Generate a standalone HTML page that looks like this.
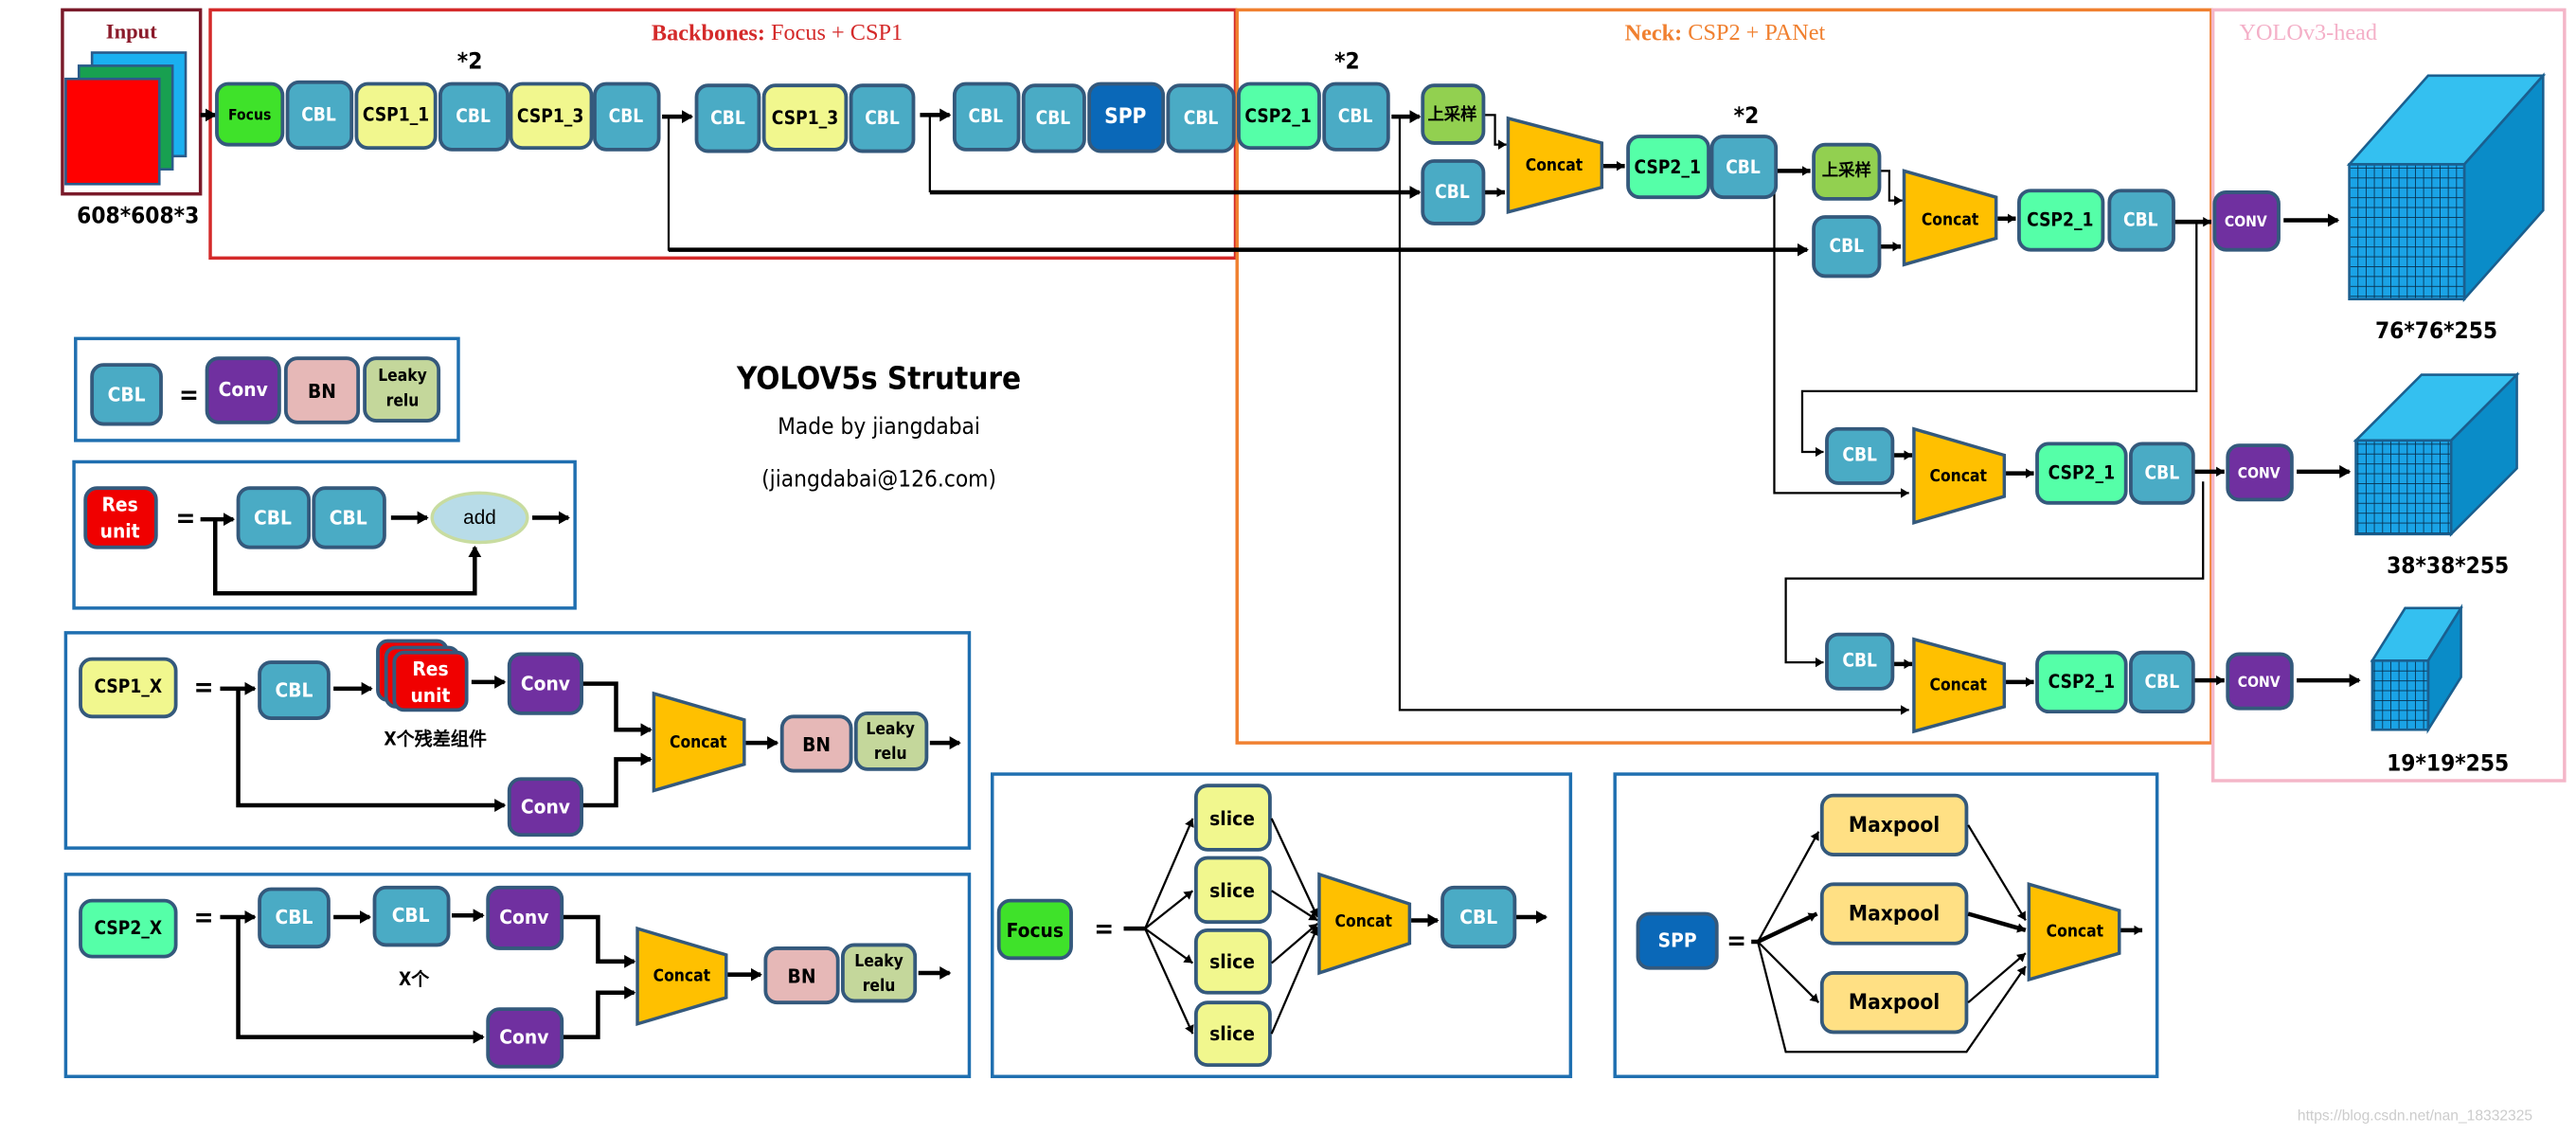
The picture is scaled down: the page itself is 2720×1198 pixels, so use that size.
<!DOCTYPE html>
<html><head><meta charset="utf-8"><style>
html,body{margin:0;padding:0;background:#fff;}
svg{display:block}
.b{stroke:#34597c;stroke-width:2.2}
.cbl{fill:#4aabc5}.y{fill:#f1f78e}.g{fill:#3fe22a}.spp{fill:#0a68b8}.c2{fill:#55ffa8}.up{fill:#92d050}
.cv{fill:#7030a0}.bn{fill:#e6b8b7}.lk{fill:#c4d79b}.mp{fill:#ffe084}.res{fill:#f00000}
.cc{fill:#ffc000;stroke:#34597c;stroke-width:2}
text{font-family:"DejaVu Sans Condensed","DejaVu Sans","Liberation Sans",sans-serif;font-weight:bold;text-anchor:middle;dominant-baseline:central}
.w{fill:#fff;font-size:11px}.k{fill:#000;font-size:11px}
.l{stroke:#000;stroke-width:1.3;fill:none}
.L{stroke:#000;stroke-width:2.6;fill:none}
.leg{fill:none;stroke:#1f6fb0;stroke-width:2}
</style></head><body>
<svg width="2720" height="1198" viewBox="0 0 1568 690.6" preserveAspectRatio="none" xmlns="http://www.w3.org/2000/svg">
<defs>
<marker id="a" markerWidth="8" markerHeight="8" refX="6" refY="4" orient="auto" markerUnits="userSpaceOnUse"><path d="M0,0 L7,4 L0,8 z" fill="#000"/></marker>
<marker id="s" markerWidth="6" markerHeight="6" refX="5" refY="3" orient="auto" markerUnits="userSpaceOnUse"><path d="M0,0 L5,3 L0,6 z" fill="#000"/></marker>
<pattern id="grid" width="5" height="6" patternUnits="userSpaceOnUse"><rect width="5" height="6" fill="#1aa3e6"/><path d="M0,0H5M0,0V6" stroke="#08304f" stroke-width="1"/></pattern>
</defs>

<!-- section boxes -->
<rect x="38" y="6" width="84" height="112" fill="none" stroke="#7a1a2a" stroke-width="2"/>
<text x="80" y="19" style="font-family:'Liberation Serif',serif;font-size:13px;fill:#8b1a2a">Input</text>
<rect x="56" y="32" width="57" height="63" fill="#1ab0f0" stroke="#2a5a8a" stroke-width="1.5"/>
<rect x="48" y="40" width="57" height="63" fill="#18a050" stroke="#2a5a8a" stroke-width="1.5"/>
<rect x="40" y="48" width="57" height="64" fill="#ff0000" stroke="#2a5a8a" stroke-width="1.5"/>
<text x="84" y="131" class="k" style="font-size:14px">608*608*3</text>
<rect x="128" y="6" width="624" height="151" fill="none" stroke="#d42a2a" stroke-width="2"/>
<text x="473" y="20" style="font-family:'Liberation Serif',serif;font-size:14px;fill:#d42a2a;font-weight:normal"><tspan font-weight="bold">Backbones:</tspan> Focus + CSP1</text>
<rect x="753" y="6" width="593" height="446" fill="none" stroke="#f08030" stroke-width="2"/>
<text x="1050" y="20" style="font-family:'Liberation Serif',serif;font-size:14px;fill:#f08030;font-weight:normal"><tspan font-weight="bold">Neck:</tspan> CSP2 + PANet</text>
<rect x="1347" y="6" width="214" height="469" fill="none" stroke="#f4b6c8" stroke-width="2"/>
<text x="1405" y="20" style="font-family:'Liberation Serif',serif;font-size:14px;fill:#f4b0c8;font-weight:normal">YOLOv3-head</text>

<!-- backbone row -->
<text x="286" y="37" class="k" style="font-size:14px">*2</text>
<text x="820" y="37" class="k" style="font-size:14px">*2</text>
<text x="1063" y="70" class="k" style="font-size:14px">*2</text>
<path class="L" d="M122,70H131" marker-end="url(#a)"/>
<rect class="b g" x="132" y="51" width="40" height="37" rx="7"/><text x="152" y="70" class="k" style="font-size:9px">Focus</text>
<rect class="b cbl" x="175" y="50" width="39" height="40" rx="7"/><text x="194" y="70" class="w">CBL</text>
<rect class="b y" x="217" y="51" width="48" height="39" rx="7"/><text x="241" y="70" class="k">CSP1_1</text>
<rect class="b cbl" x="268" y="51" width="41" height="40" rx="7"/><text x="288" y="71" class="w">CBL</text>
<rect class="b y" x="311" y="51" width="49" height="39" rx="7"/><text x="335" y="71" class="k">CSP1_3</text>
<rect class="b cbl" x="362" y="51" width="39" height="40" rx="7"/><text x="381" y="71" class="w">CBL</text>
<path class="L" d="M403,71H421" marker-end="url(#a)"/>
<rect class="b cbl" x="424" y="52" width="38" height="40" rx="7"/><text x="443" y="72" class="w">CBL</text>
<rect class="b y" x="465" y="52" width="50" height="39" rx="7"/><text x="490" y="72" class="k">CSP1_3</text>
<rect class="b cbl" x="518" y="52" width="38" height="40" rx="7"/><text x="537" y="72" class="w">CBL</text>
<path class="L" d="M560,70H578" marker-end="url(#a)"/>
<rect class="b cbl" x="581" y="51" width="39" height="40" rx="7"/><text x="600" y="71" class="w">CBL</text>
<rect class="b cbl" x="623" y="52" width="37" height="40" rx="7"/><text x="641" y="72" class="w">CBL</text>
<rect class="b spp" x="663" y="51" width="45" height="41" rx="7"/><text x="685" y="71" class="w" style="font-size:13px">SPP</text>
<rect class="b cbl" x="711" y="52" width="40" height="40" rx="7"/><text x="731" y="72" class="w">CBL</text>
<rect class="b c2" x="754" y="51" width="49" height="39" rx="7"/><text x="778" y="71" class="k">CSP2_1</text>
<rect class="b cbl" x="806" y="51" width="39" height="40" rx="7"/><text x="825" y="71" class="w">CBL</text>
<path class="L" d="M847,71H864" marker-end="url(#a)"/>

<!-- long connections -->
<path class="l" d="M407,71V152H1100" /><path class="L" d="M407,152H1100" marker-end="url(#a)"/>
<path class="l" d="M566,70V117"/><path class="L" d="M566,117H864" marker-end="url(#a)"/>
<path class="l" d="M852,71V432H1162" marker-end="url(#s)"/>
<path class="l" d="M1080,104V300H1162" marker-end="url(#s)"/>
<path class="l" d="M1337,135V238H1097V275H1110" marker-end="url(#s)"/>
<path class="l" d="M1341,293V352H1087V403H1110" marker-end="url(#s)"/>

<!-- neck first stage -->
<rect class="b up" x="866" y="52" width="37" height="35" rx="7"/><text x="884" y="70" class="k" style="font-size:10px">上采样</text>
<rect class="b cbl" x="866" y="98" width="37" height="38" rx="7"/><text x="884" y="117" class="w">CBL</text>
<path class="l" d="M904,70H910V88H917" marker-end="url(#s)"/>
<path class="L" d="M904,117H916" marker-end="url(#s)"/>
<polygon class="cc" points="918,72 975,87 975,114 918,129"/><text x="946" y="101" class="k" style="font-size:10px">Concat</text>
<path class="L" d="M976,101H989" marker-end="url(#s)"/>
<rect class="b c2" x="991" y="83" width="49" height="37" rx="7"/><text x="1015" y="102" class="k">CSP2_1</text>
<rect class="b cbl" x="1042" y="83" width="39" height="37" rx="7"/><text x="1061" y="102" class="w">CBL</text>
<path class="L" d="M1082,104H1102" marker-end="url(#s)"/>
<rect class="b up" x="1104" y="88" width="40" height="33" rx="7"/><text x="1124" y="104" class="k" style="font-size:10px">上采样</text>
<rect class="b cbl" x="1104" y="132" width="40" height="36" rx="7"/><text x="1124" y="150" class="w">CBL</text>
<path class="l" d="M1145,104H1150V122H1158" marker-end="url(#s)"/>
<path class="L" d="M1145,150H1157" marker-end="url(#s)"/>
<polygon class="cc" points="1159,104 1215,120 1215,145 1159,161"/><text x="1187" y="134" class="k" style="font-size:10px">Concat</text>
<path class="L" d="M1216,133H1227" marker-end="url(#s)"/>
<rect class="b c2" x="1229" y="116" width="51" height="36" rx="7"/><text x="1254" y="134" class="k">CSP2_1</text>
<rect class="b cbl" x="1284" y="116" width="39" height="36" rx="7"/><text x="1303" y="134" class="w">CBL</text>
<path class="L" d="M1324,135H1346" marker-end="url(#s)"/>
<rect class="b cv" x="1348" y="117" width="39" height="35" rx="7"/><text x="1367" y="135" class="w" style="font-size:9px">CONV</text>
<path class="L" d="M1390,134H1423" marker-end="url(#a)"/>

<!-- stage 2 -->
<rect class="b cbl" x="1112" y="261" width="40" height="33" rx="7"/><text x="1132" y="277" class="w">CBL</text>
<path class="L" d="M1153,277H1164" marker-end="url(#s)"/>
<polygon class="cc" points="1165,261 1220,277 1220,302 1165,318"/><text x="1192" y="290" class="k" style="font-size:10px">Concat</text>
<path class="L" d="M1221,288H1238" marker-end="url(#s)"/>
<rect class="b c2" x="1240" y="270" width="54" height="36" rx="7"/><text x="1267" y="288" class="k">CSP2_1</text>
<rect class="b cbl" x="1297" y="270" width="38" height="36" rx="7"/><text x="1316" y="288" class="w">CBL</text>
<path class="L" d="M1336,287H1354" marker-end="url(#s)"/>
<rect class="b cv" x="1356" y="271" width="39" height="33" rx="7"/><text x="1375" y="288" class="w" style="font-size:9px">CONV</text>
<path class="L" d="M1398,287H1430" marker-end="url(#a)"/>

<!-- stage 3 -->
<rect class="b cbl" x="1112" y="386" width="40" height="33" rx="7"/><text x="1132" y="402" class="w">CBL</text>
<path class="L" d="M1153,404H1164" marker-end="url(#s)"/>
<polygon class="cc" points="1165,389 1220,404 1220,430 1165,445"/><text x="1192" y="417" class="k" style="font-size:10px">Concat</text>
<path class="L" d="M1221,415H1238" marker-end="url(#s)"/>
<rect class="b c2" x="1240" y="397" width="54" height="36" rx="7"/><text x="1267" y="415" class="k">CSP2_1</text>
<rect class="b cbl" x="1297" y="397" width="38" height="36" rx="7"/><text x="1316" y="415" class="w">CBL</text>
<path class="L" d="M1336,414H1354" marker-end="url(#s)"/>
<rect class="b cv" x="1356" y="398" width="39" height="33" rx="7"/><text x="1375" y="415" class="w" style="font-size:9px">CONV</text>
<path class="L" d="M1398,414H1436" marker-end="url(#a)"/>

<!-- cubes -->
<polygon points="1430,100 1478,46 1548,46 1500,100" fill="#34c0f0" stroke="#1a5f8f" stroke-width="1.5"/>
<polygon points="1500,100 1548,46 1548,128 1500,182" fill="#0a8cc8" stroke="#1a5f8f" stroke-width="1.5"/>
<rect x="1430" y="100" width="70" height="82" fill="url(#grid)" stroke="#1a5f8f" stroke-width="1.5"/>
<text x="1483" y="201" class="k" style="font-size:14px">76*76*255</text>
<polygon points="1434,268 1474,228 1532,228 1492,268" fill="#34c0f0" stroke="#1a5f8f" stroke-width="1.5"/>
<polygon points="1492,268 1532,228 1532,285 1492,325" fill="#0a8cc8" stroke="#1a5f8f" stroke-width="1.5"/>
<rect x="1434" y="268" width="58" height="57" fill="url(#grid)" stroke="#1a5f8f" stroke-width="1.5"/>
<text x="1490" y="344" class="k" style="font-size:14px">38*38*255</text>
<polygon points="1444,402 1464,370 1498,370 1478,402" fill="#34c0f0" stroke="#1a5f8f" stroke-width="1.5"/>
<polygon points="1478,402 1498,370 1498,412 1478,444" fill="#0a8cc8" stroke="#1a5f8f" stroke-width="1.5"/>
<rect x="1444" y="402" width="34" height="42" fill="url(#grid)" stroke="#1a5f8f" stroke-width="1.5"/>
<text x="1490" y="464" class="k" style="font-size:14px">19*19*255</text>

<!-- title -->
<text x="535" y="230" class="k" style="font-size:19px">YOLOV5s Struture</text>
<text x="535" y="259" class="k" style="font-size:14px;font-weight:normal">Made by jiangdabai</text>
<text x="535" y="291" class="k" style="font-size:14px;font-weight:normal">(jiangdabai@126.com)</text>

<!-- legend 1 CBL -->
<rect class="leg" x="46" y="206" width="233" height="62"/>
<rect class="b cbl" x="56" y="222" width="42" height="36" rx="7"/><text x="77" y="240" class="w" style="font-size:12px">CBL</text>
<text x="115" y="240" class="k" style="font-size:16px">=</text>
<rect class="b cv" x="126" y="218" width="44" height="39" rx="7"/><text x="148" y="237" class="w" style="font-size:12px">Conv</text>
<rect class="b bn" x="174" y="218" width="44" height="39" rx="7"/><text x="196" y="238" class="k" style="font-size:12px">BN</text>
<rect class="b lk" x="222" y="218" width="45" height="38" rx="7"/><text x="245" y="229" class="k" style="font-size:10px">Leaky</text><text x="245" y="244" class="k" style="font-size:10px">relu</text>

<!-- legend 2 Res unit -->
<rect class="leg" x="45" y="281" width="305" height="89"/>
<rect class="b res" x="52" y="297" width="43" height="36" rx="7"/><text x="73" y="307" class="w" style="font-size:12px">Res</text><text x="73" y="323" class="w" style="font-size:12px">unit</text>
<text x="113" y="315" class="k" style="font-size:16px">=</text>
<path class="L" d="M122,316H142" marker-end="url(#a)"/>
<rect class="b cbl" x="145" y="297" width="43" height="36" rx="7"/><text x="166" y="315" class="w" style="font-size:12px">CBL</text>
<rect class="b cbl" x="191" y="297" width="43" height="36" rx="7"/><text x="212" y="315" class="w" style="font-size:12px">CBL</text>
<path class="L" d="M238,315H260" marker-end="url(#a)"/>
<ellipse cx="292" cy="315" rx="29" ry="15" fill="#b8dce8" stroke="#c8dca0" stroke-width="2"/><text x="292" y="315" class="k" style="font-size:12px;font-weight:normal;font-family:'Liberation Sans',sans-serif">add</text>
<path class="L" d="M324,315H346" marker-end="url(#a)"/>
<path class="L" d="M131,316V361H289V333" marker-end="url(#a)"/>

<!-- legend 3 CSP1_X -->
<rect class="leg" x="40" y="385" width="550" height="131"/>
<rect class="b y" x="49" y="401" width="58" height="35" rx="7"/><text x="78" y="418" class="k">CSP1_X</text>
<text x="124" y="418" class="k" style="font-size:16px">=</text>
<path class="L" d="M134,419H155" marker-end="url(#a)"/>
<rect class="b cbl" x="158" y="403" width="42" height="34" rx="7"/><text x="179" y="420" class="w" style="font-size:12px">CBL</text>
<path class="L" d="M203,419H226" marker-end="url(#a)"/>
<rect class="b res" x="230" y="390" width="42" height="36" rx="6"/>
<rect class="b res" x="235" y="394" width="44" height="36" rx="6"/>
<rect class="b res" x="240" y="397" width="44" height="35" rx="6"/><text x="262" y="407" class="w" style="font-size:12px">Res</text><text x="262" y="423" class="w" style="font-size:12px">unit</text>
<path class="L" d="M287,415H307" marker-end="url(#a)"/>
<rect class="b cv" x="310" y="398" width="44" height="36" rx="7"/><text x="332" y="416" class="w" style="font-size:12px">Conv</text>
<text x="265" y="450" class="k" style="font-size:11px">X个残差组件</text>
<path class="L" d="M355,416H375V444H396" marker-end="url(#a)"/>
<path class="L" d="M145,420V490H307" marker-end="url(#a)"/>
<rect class="b cv" x="310" y="474" width="44" height="34" rx="7"/><text x="332" y="491" class="w" style="font-size:12px">Conv</text>
<path class="L" d="M355,490H375V462H396" marker-end="url(#a)"/>
<polygon class="cc" points="398,422 453,438 453,465 398,481"/><text x="425" y="452" class="k" style="font-size:10px">Concat</text>
<path class="L" d="M454,452H473" marker-end="url(#a)"/>
<rect class="b bn" x="476" y="436" width="42" height="33" rx="7"/><text x="497" y="453" class="k" style="font-size:12px">BN</text>
<rect class="b lk" x="521" y="434" width="43" height="34" rx="7"/><text x="542" y="444" class="k" style="font-size:10px">Leaky</text><text x="542" y="459" class="k" style="font-size:10px">relu</text>
<path class="L" d="M566,452H584" marker-end="url(#a)"/>

<!-- legend 4 CSP2_X -->
<rect class="leg" x="40" y="532" width="550" height="123"/>
<rect class="b c2" x="49" y="548" width="58" height="34" rx="7"/><text x="78" y="565" class="k">CSP2_X</text>
<text x="124" y="558" class="k" style="font-size:16px">=</text>
<path class="L" d="M134,558H155" marker-end="url(#a)"/>
<rect class="b cbl" x="158" y="541" width="42" height="35" rx="7"/><text x="179" y="558" class="w" style="font-size:12px">CBL</text>
<path class="L" d="M203,558H225" marker-end="url(#a)"/>
<rect class="b cbl" x="228" y="540" width="45" height="35" rx="7"/><text x="250" y="557" class="w" style="font-size:12px">CBL</text>
<path class="L" d="M275,557H294" marker-end="url(#a)"/>
<rect class="b cv" x="297" y="540" width="45" height="37" rx="7"/><text x="319" y="558" class="w" style="font-size:12px">Conv</text>
<text x="252" y="596" class="k" style="font-size:11px">X个</text>
<path class="L" d="M343,558H364V585H386" marker-end="url(#a)"/>
<path class="L" d="M145,559V631H294" marker-end="url(#a)"/>
<rect class="b cv" x="297" y="614" width="45" height="35" rx="7"/><text x="319" y="631" class="w" style="font-size:12px">Conv</text>
<path class="L" d="M343,631H364V604H386" marker-end="url(#a)"/>
<polygon class="cc" points="388,565 442,581 442,607 388,623"/><text x="415" y="594" class="k" style="font-size:10px">Concat</text>
<path class="L" d="M443,593H463" marker-end="url(#a)"/>
<rect class="b bn" x="466" y="577" width="44" height="33" rx="7"/><text x="488" y="594" class="k" style="font-size:12px">BN</text>
<rect class="b lk" x="513" y="575" width="44" height="34" rx="7"/><text x="535" y="585" class="k" style="font-size:10px">Leaky</text><text x="535" y="600" class="k" style="font-size:10px">relu</text>
<path class="L" d="M559,592H578" marker-end="url(#a)"/>

<!-- Focus legend -->
<rect class="leg" x="604" y="471" width="352" height="184"/>
<rect class="b g" x="608" y="548" width="44" height="35" rx="7"/><text x="630" y="566" class="k" style="font-size:12px">Focus</text>
<text x="672" y="565" class="k" style="font-size:16px">=</text>
<path class="L" d="M684,565H697"/>
<path class="l" d="M697,565L726,498" marker-end="url(#s)"/>
<path class="l" d="M697,565L726,542" marker-end="url(#s)"/>
<path class="l" d="M697,565L726,586" marker-end="url(#s)"/>
<path class="l" d="M697,565L726,629" marker-end="url(#s)"/>
<rect class="b y" x="728" y="478" width="45" height="39" rx="7"/><text x="750" y="498" class="k" style="font-size:12px">slice</text>
<rect class="b y" x="728" y="522" width="45" height="39" rx="7"/><text x="750" y="542" class="k" style="font-size:12px">slice</text>
<rect class="b y" x="728" y="566" width="45" height="38" rx="7"/><text x="750" y="585" class="k" style="font-size:12px">slice</text>
<rect class="b y" x="728" y="610" width="45" height="38" rx="7"/><text x="750" y="629" class="k" style="font-size:12px">slice</text>
<path class="l" d="M774,498L802,558" marker-end="url(#s)"/>
<path class="l" d="M774,542L802,560" marker-end="url(#s)"/>
<path class="l" d="M774,586L802,562" marker-end="url(#s)"/>
<path class="l" d="M774,629L802,564" marker-end="url(#s)"/>
<polygon class="cc" points="803,532 858,550 858,574 803,592"/><text x="830" y="561" class="k" style="font-size:10px">Concat</text>
<path class="L" d="M859,560H875" marker-end="url(#a)"/>
<rect class="b cbl" x="878" y="540" width="44" height="36" rx="7"/><text x="900" y="558" class="w" style="font-size:12px">CBL</text>
<path class="L" d="M923,558H941" marker-end="url(#a)"/>

<!-- SPP legend -->
<rect class="leg" x="983" y="471" width="330" height="184"/>
<rect class="b spp" x="997" y="556" width="48" height="33" rx="7"/><text x="1021" y="572" class="w" style="font-size:12px">SPP</text>
<text x="1057" y="572" class="k" style="font-size:16px">=</text>
<path class="L" d="M1066,573H1070"/>
<path class="l" d="M1070,573L1107,506" marker-end="url(#s)"/>
<path class="L" d="M1070,573L1106,556" marker-end="url(#s)"/>
<path class="l" d="M1070,573L1107,610" marker-end="url(#s)"/>
<path class="l" d="M1070,573L1087,640H1197L1233,588" marker-end="url(#s)"/>
<rect class="b mp" x="1109" y="484" width="88" height="36" rx="7"/><text x="1153" y="502" class="k" style="font-size:13px">Maxpool</text>
<rect class="b mp" x="1109" y="538" width="88" height="36" rx="7"/><text x="1153" y="556" class="k" style="font-size:13px">Maxpool</text>
<rect class="b mp" x="1109" y="592" width="88" height="36" rx="7"/><text x="1153" y="610" class="k" style="font-size:13px">Maxpool</text>
<path class="l" d="M1198,502L1233,560" marker-end="url(#s)"/>
<path class="L" d="M1198,556L1233,566" marker-end="url(#s)"/>
<path class="l" d="M1198,610L1233,580" marker-end="url(#s)"/>
<polygon class="cc" points="1235,538 1290,554 1290,580 1235,596"/><text x="1263" y="567" class="k" style="font-size:10px">Concat</text>
<path class="L" d="M1291,566H1304" marker-end="url(#s)"/>

<text x="1470" y="679" style="font-family:'Liberation Sans',sans-serif;font-weight:normal;font-size:9px;fill:#ccc">https://blog.csdn.net/nan_18332325</text>
</svg>
</body></html>
